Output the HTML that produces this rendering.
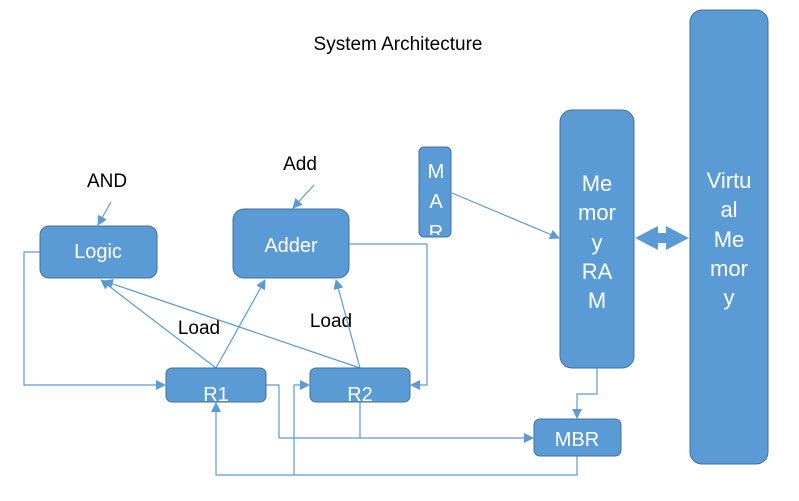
<!DOCTYPE html>
<html><head><style>body{margin:0;background:#fff}svg{display:block}</style></head><body>
<svg width="799" height="501" viewBox="0 0 799 501" xmlns="http://www.w3.org/2000/svg" font-family="Liberation Sans, sans-serif">
<defs>
<marker id="a" markerWidth="10" markerHeight="10" refX="9" refY="5" orient="auto" markerUnits="userSpaceOnUse"><path d="M0,0 L10,5 L0,10 z" fill="#5b9bd5"/></marker>
<clipPath id="cr1"><rect x="166" y="368" width="100" height="34"/></clipPath>
<clipPath id="cr2"><rect x="310" y="368" width="100" height="34"/></clipPath>
<clipPath id="cmar"><rect x="419" y="147" width="32" height="88"/></clipPath>
</defs>
<text x="398" y="50" font-size="19" text-anchor="middle" fill="#000">System Architecture</text>
<text x="107" y="187" font-size="19" text-anchor="middle">AND</text>
<text x="300" y="170" font-size="19" text-anchor="middle">Add</text>
<text x="199" y="334" font-size="19" text-anchor="middle">Load</text>
<text x="331" y="327" font-size="19" text-anchor="middle">Load</text>
<g stroke="#5b9bd5" stroke-width="1.2" fill="none">
<line x1="111" y1="202" x2="98" y2="225" marker-end="url(#a)"/>
<line x1="314" y1="185" x2="293" y2="208" marker-end="url(#a)"/>
<polyline points="40,252 24,252 24,385 165,385" marker-end="url(#a)"/>
<line x1="216" y1="368" x2="101" y2="280" marker-end="url(#a)"/>
<line x1="216" y1="368" x2="265" y2="280" marker-end="url(#a)"/>
<line x1="360" y1="368" x2="104" y2="281" marker-end="url(#a)"/>
<line x1="360" y1="368" x2="336" y2="280" marker-end="url(#a)"/>
<polyline points="349,244 427,244 427,385 411,385" marker-end="url(#a)"/>
<polyline points="266,385 279,385 279,438 533,438" marker-end="url(#a)"/>
<polyline points="360,402 360,438"/>
<polyline points="577,456 577,475 216,475 216,403" marker-end="url(#a)"/>
<polyline points="294,475 294,385 309,385" marker-end="url(#a)"/>
<polyline points="597,368 597,394 577,394 577,418" marker-end="url(#a)"/>
<line x1="452" y1="193" x2="559" y2="238" marker-end="url(#a)"/>
</g>
<g fill="#5b9bd5" stroke="#41719c" stroke-width="1">
<rect x="40" y="226" width="117" height="52" rx="9"/>
<rect x="233" y="209" width="116" height="69" rx="11"/>
<rect x="166" y="368" width="100" height="34" rx="6"/>
<rect x="310" y="368" width="100" height="34" rx="6"/>
<rect x="419" y="147" width="32" height="90" rx="5"/>
<rect x="560" y="110" width="74" height="258" rx="12"/>
<rect x="690" y="10" width="78" height="454" rx="12"/>
<rect x="534" y="419" width="87" height="37" rx="6"/>
<path d="M635,238 L658,226 L658,233 L666,233 L666,226 L689,238 L666,250 L666,243 L658,243 L658,250 z" stroke="none"/>
</g>
<g fill="#fff" font-size="20" text-anchor="middle">
<text x="98" y="258">Logic</text>
<text x="291" y="252">Adder</text>
<text x="216" y="401" clip-path="url(#cr1)">R1</text>
<text x="360" y="401" clip-path="url(#cr2)">R2</text>
<text x="577" y="446">MBR</text>
<g clip-path="url(#cmar)"><text x="436" y="178">M</text><text x="436" y="208">A</text><text x="436" y="239">R</text></g>
<g font-size="22"><text x="597" y="191">Me</text><text x="597" y="220">mor</text><text x="597" y="250">y</text><text x="597" y="279">RA</text><text x="597" y="308">M</text></g>
<g font-size="22"><text x="729" y="188">Virtu</text><text x="729" y="217">al</text><text x="729" y="247">Me</text><text x="729" y="276">mor</text><text x="729" y="305">y</text></g>
</g>
</svg>
</body></html>
